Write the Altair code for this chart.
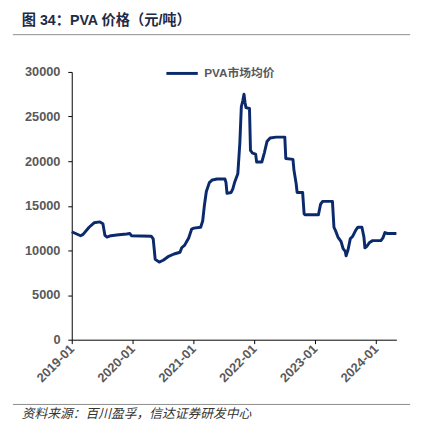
import altair as alt
import pandas as pd

# ---- data ----
dates = [
    "2019-01-01", "2019-01-24", "2019-02-23", "2019-03-10", "2019-04-15", "2019-05-15", "2019-06-19",
    "2019-07-07", "2019-07-19", "2019-08-01", "2019-08-24", "2019-10-10", "2019-11-27", "2019-12-15", "2019-12-25",
    "2020-04-22", "2020-05-04", "2020-05-16", "2020-06-09", "2020-07-03", "2020-08-01", "2020-09-06",
    "2020-10-12", "2020-10-22", "2020-11-09", "2020-11-21", "2020-12-03", "2020-12-21",
    "2021-01-03", "2021-02-13", "2021-02-25", "2021-03-07", "2021-03-19", "2021-04-06", "2021-04-24",
    "2021-05-22", "2021-07-09", "2021-07-15", "2021-07-21", "2021-08-15", "2021-08-25", "2021-09-06",
    "2021-09-24", "2021-10-06", "2021-10-15", "2021-10-24", "2021-10-31", "2021-11-06", "2021-11-12",
    "2021-12-03", "2021-12-09", "2021-12-21",
    "2022-01-09", "2022-01-15", "2022-02-15", "2022-03-03", "2022-03-18", "2022-04-06", "2022-05-12",
    "2022-07-03", "2022-07-09", "2022-08-21", "2022-08-27", "2022-09-09", "2022-09-15", "2022-10-18",
    "2022-10-27", "2022-11-01",
    "2023-01-21", "2023-02-03", "2023-02-15", "2023-04-15", "2023-04-24", "2023-05-06", "2023-05-18",
    "2023-06-06", "2023-06-18", "2023-07-01", "2023-07-06", "2023-07-18", "2023-07-31", "2023-08-15",
    "2023-09-03", "2023-09-15", "2023-10-09", "2023-10-21", "2023-10-27", "2023-11-09", "2023-11-24",
    "2023-12-12",
    "2024-01-31", "2024-02-12", "2024-02-24", "2024-03-10", "2024-05-03",
]
prices = [
    12100, 11900, 11650, 11800, 12600, 13100, 13200, 13000, 11700, 11500, 11650, 11750, 11850, 11900, 11650,
    11600, 11300, 9000, 8700, 8900, 9300, 9600, 9800, 10300, 10600, 11000, 11400, 12400,
    12500, 12600, 13300, 15000, 16600, 17600, 17900, 18000, 18000, 17600, 16400, 16500, 16900, 17700,
    18600, 22000, 26100, 26800, 27500, 26600, 26000, 25900, 21200, 20900,
    20800, 19900, 19900, 21000, 22200, 22600, 22700, 22700, 20300, 20200, 19000, 17500, 16500, 16500,
    14100, 14000,
    14000, 15200, 15500, 15500, 12600, 12100, 11500, 11000, 10200, 9900, 9400, 10100, 11300, 11600,
    12300, 12600, 12600, 11500, 10300, 10500, 10900, 11100,
    11100, 11400, 12000, 11900, 11900,
]
series_name = "PVA市场均价"
y_ticks = [0, 5000, 10000, 15000, 20000, 25000, 30000]
x_tick_years = [2019, 2020, 2021, 2022, 2023, 2024]
title_text = "图 34：PVA 价格（元/吨）"
source_text = "资料来源：百川盈孚，信达证券研发中心"

df = pd.DataFrame({"date": dates, "price": prices, "series": series_name})

LATIN = "Liberation Sans, Arial, Noto Sans CJK SC"
CJK = "Noto Sans CJK SC"

line = alt.Chart(df).mark_line(strokeWidth=3, interpolate="linear", strokeJoin="round").encode(
    x=alt.X(
        "date:T",
        title=None,
        scale=alt.Scale(
            type="utc",
            domain=[alt.DateTime(year=2019, month=1, date=1, utc=True),
                    alt.DateTime(year=2024, month=5, date=3, utc=True)],
        ),
        axis=alt.Axis(
            values=[alt.DateTime(year=y, month=1, date=1, utc=True) for y in x_tick_years],
            format="%Y-%m",
            labelAngle=-45,
            labelAlign="right",
            labelBaseline="middle",
            labelPadding=3,
            tickSize=4,
            grid=False,
        ),
    ),
    y=alt.Y(
        "price:Q",
        title=None,
        scale=alt.Scale(domain=[0, 30000], nice=False, zero=True),
        axis=alt.Axis(values=y_ticks, format="d", tickSize=4, labelPadding=8, grid=False),
    ),
    color=alt.Color(
        "series:N",
        scale=alt.Scale(range=["#0b2a6b"]),
        legend=alt.Legend(
            title=None,
            orient="none",
            legendX=95,
            legendY=-16,
            symbolType="stroke",
            symbolSize=1024,
            symbolStrokeWidth=3,
            labelFontSize=12,
            labelFontWeight="bold",
            labelColor="#595959",
            labelFont=LATIN,
            labelOffset=5,
            padding=0,
        ),
    ),
)

title_mark = alt.Chart(pd.DataFrame({"t": [title_text]})).mark_text(
    align="left", baseline="middle", font=LATIN, fontSize=14.5, fontWeight="bold", color="#1f2a44"
).encode(text="t:N", x=alt.value(-51), y=alt.value(-52))

title_rule = alt.Chart(pd.DataFrame({"k": [0]})).mark_rule(color="#8c8c8c", strokeWidth=1).encode(
    x=alt.value(-60), x2=alt.value(345), y=alt.value(-38)
)

source_rule = alt.Chart(pd.DataFrame({"k": [0]})).mark_rule(color="#8c8c8c", strokeWidth=1).encode(
    x=alt.value(-60), x2=alt.value(345), y=alt.value(339)
)

source_mark = alt.Chart(pd.DataFrame({"t": [source_text]})).mark_text(
    align="left", baseline="middle", font=CJK, fontSize=13, fontStyle="italic", color="#333333"
).encode(text="t:N", x=alt.value(-51), y=alt.value(349))

chart = alt.layer(line, title_mark, title_rule, source_rule, source_mark).properties(
    width=331,
    height=273,
    padding={"left": 65, "top": 61, "right": 21, "bottom": 95},
    autosize=alt.AutoSizeParams(type="none"),
).configure_view(stroke=None).configure_axis(
    domainColor="#000000",
    domainWidth=1,
    tickColor="#000000",
    tickWidth=1,
    labelFont=LATIN,
    labelFontSize=13,
    labelFontWeight="bold",
    labelColor="#595959",
)

chart.save("out.html", embed_options={"renderer": "svg", "actions": False})
